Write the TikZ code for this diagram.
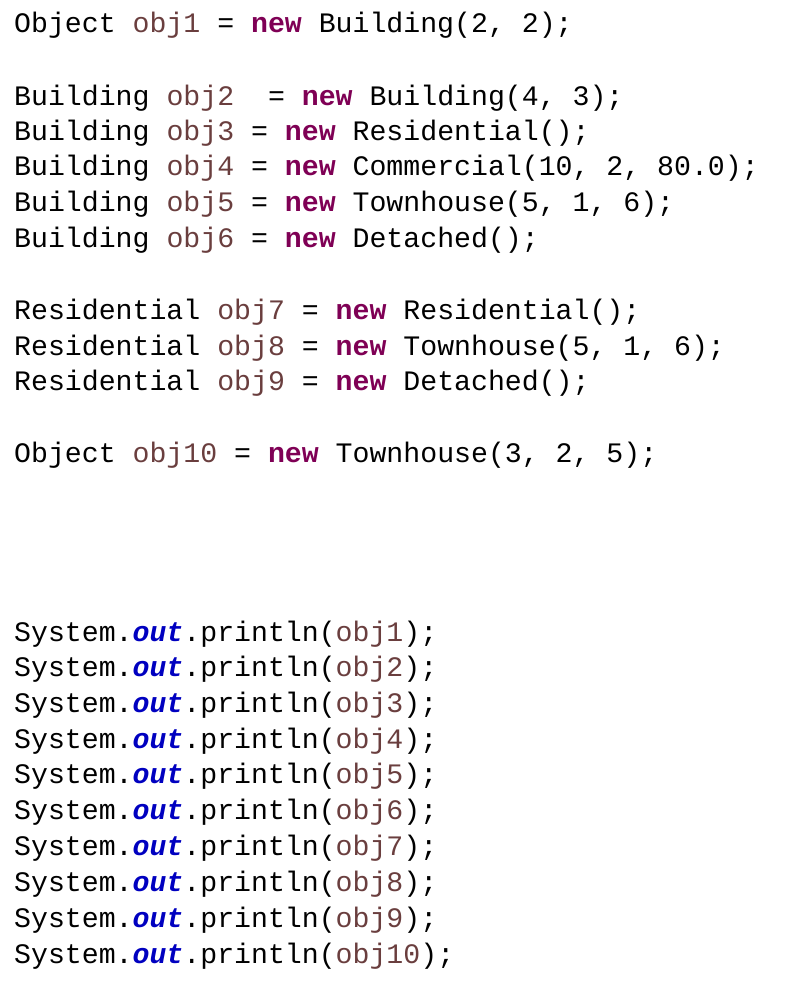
\documentclass[tikz,border=0pt]{standalone}
\usepackage{fontspec}
\setmonofont{Liberation Mono}
\definecolor{kw}{HTML}{7F0055}
\definecolor{vr}{HTML}{6A3E3E}
\definecolor{fl}{HTML}{0000C0}
\newcommand{\kwnew}{\textcolor{kw}{\textbf{new}}}
\newcommand{\vn}[1]{\textcolor{vr}{#1}}
\newcommand{\outf}{\textcolor{fl}{\textbf{\textit{out}}}}
\begin{document}
\begin{tikzpicture}[x=1pt,y=-1pt,
  codeline/.style={anchor=west,inner sep=0pt,font=\fontsize{28.2}{32}\selectfont\ttfamily,text=black}]
\useasboundingbox[fill=white] (0,0) rectangle (794,988);
\node[codeline] (l1) at (14,25) {Object \vn{obj1} = \kwnew{} Building(2, 2);};
\node[codeline] (l2) at (14,98) {Building \vn{obj2}\ \ = \kwnew{} Building(4, 3);};
\node[codeline] (l3) at (14,133) {Building \vn{obj3} = \kwnew{} Residential();};
\node[codeline] (l4) at (14,168) {Building \vn{obj4} = \kwnew{} Commercial(10, 2, 80.0);};
\node[codeline] (l5) at (14,204) {Building \vn{obj5} = \kwnew{} Townhouse(5, 1, 6);};
\node[codeline] (l6) at (14,240) {Building \vn{obj6} = \kwnew{} Detached();};
\node[codeline] (l7) at (14,312) {Residential \vn{obj7} = \kwnew{} Residential();};
\node[codeline] (l8) at (14,348) {Residential \vn{obj8} = \kwnew{} Townhouse(5, 1, 6);};
\node[codeline] (l9) at (14,383) {Residential \vn{obj9} = \kwnew{} Detached();};
\node[codeline] (l10) at (14,455) {Object \vn{obj10} = \kwnew{} Townhouse(3, 2, 5);};
\foreach \i/\y in {1/634,2/669,3/705,4/741,5/776,6/812,7/848,8/884,9/920,10/956}{
  \node[codeline] (p\i) at (14,\y) {System.\outf.println(\vn{obj\i});};
}
\end{tikzpicture}
\end{document}
